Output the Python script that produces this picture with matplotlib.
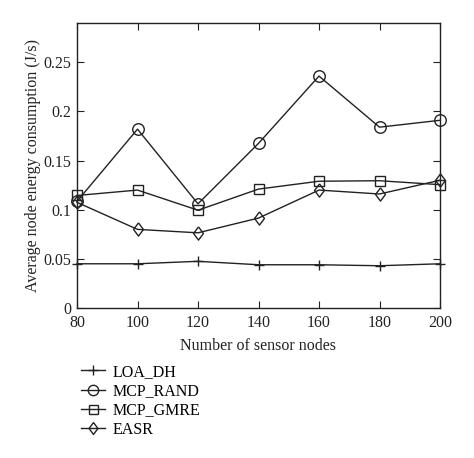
import matplotlib
matplotlib.use('Agg')
import matplotlib.pyplot as plt

plt.rcParams['font.family'] = ['Liberation Serif', 'DejaVu Serif']

nodes = [80, 100, 120, 140, 160, 180, 200]
loa_dh = [0.045, 0.045, 0.0475, 0.044, 0.044, 0.043, 0.045]
mcp_rand = [0.1085, 0.182, 0.106, 0.1675, 0.236, 0.184, 0.191]
mcp_gmre = [0.1145, 0.120, 0.0995, 0.121, 0.129, 0.1295, 0.1255]
easr = [0.1075, 0.080, 0.0765, 0.0915, 0.120, 0.116, 0.130]

# taller-than-wide diamond like the original
diamond = [(0, 1), (0.75, 0), (0, -1), (-0.75, 0), (0, 1)]

series = [
    ('LOA_DH', loa_dh, '+', 7.5),
    ('MCP_RAND', mcp_rand, 'o', 8.3),
    ('MCP_GMRE', mcp_gmre, 's', 7.2),
    ('EASR', easr, diamond, 9.5),
]

fig = plt.figure(figsize=(4.74, 4.58), dpi=100)
ax = fig.add_axes([77 / 474, 1 - 308 / 458, (440 - 77) / 474, (308 - 23) / 458])

for name, vals, mk, size in series:
    ax.plot(nodes, vals, color='#222222', lw=1.0, marker=mk, markersize=size,
            markerfacecolor='none', markeredgewidth=1.0, label=name, clip_on=False)

ax.set_xlim(80, 200)
ax.set_ylim(0, 0.29)
ax.set_xticks(nodes)
ax.set_yticks([0, 0.05, 0.1, 0.15, 0.2, 0.25])
ax.set_yticklabels(['0', '0.05', '0.1', '0.15', '0.2', '0.25'])
ax.tick_params(direction='in', top=True, right=True, length=5, labelsize=11.5,
               colors='#222222', pad=5)
ax.tick_params(axis='y', pad=4)
for s in ax.spines.values():
    s.set_color('#222222')
    s.set_linewidth(1.0)

ax.set_xlabel('Number of sensor nodes', fontsize=11.5, color='#222222', labelpad=5)
ax.set_ylabel('Average node energy consumption (J/s)', fontsize=11.5, color='#222222', labelpad=2)

ax.legend(loc='upper left', bbox_to_anchor=(81 / 474, 1 - 364 / 458), bbox_transform=fig.transFigure,
          frameon=False, fontsize=11.5, handlelength=1.5, handletextpad=0.45, labelspacing=0.2,
          markerscale=0.9, borderaxespad=0, borderpad=0)

fig.savefig('out.png', dpi=100)
